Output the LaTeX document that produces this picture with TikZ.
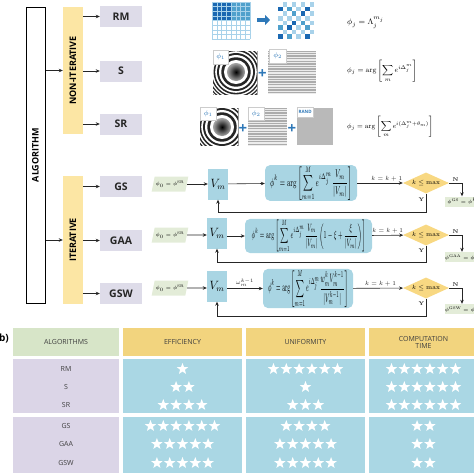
\documentclass[tikz,border=0pt]{standalone}
\usepackage{amsmath}
\usepackage{fontspec}
\setsansfont{Open Sans}
\usetikzlibrary{shapes,arrows.meta}

\definecolor{baryellow}{HTML}{FCE6A4}
\definecolor{alggray}{HTML}{DEDCE9}
\definecolor{boxblue}{HTML}{A9D5E3}
\definecolor{decyellow}{HTML}{F8D882}
\definecolor{ingreen}{HTML}{E3ECD8}
\definecolor{headgreen}{HTML}{D7E5C8}
\definecolor{headyellow}{HTML}{F2D47E}
\definecolor{celllav}{HTML}{DBD5E7}
\definecolor{cellblue}{HTML}{AAD7E4}
\definecolor{rmdark}{HTML}{1A68B2}
\definecolor{rmmid}{HTML}{4FA0CC}
\definecolor{rmlight}{HTML}{A8D2EA}
\definecolor{plusblue}{HTML}{2E78B8}
\definecolor{txtgray}{HTML}{3F3F3F}

% row of white stars: name, x, y, count
\newcommand{\starrow}[4]{%
  \foreach \s in {1,...,#4}{%
    \node[wstar] (#1-\s) at ({#2+(\s-(#4+1)/2)*12.8},#3) {};}}

% zone plate picture: x1, y1, x2, y2, cx, cy
\newcommand{\zoneplate}[6]{%
  \begin{scope}
    \clip (#1,#2) rectangle (#3,#4);
    \fill[white] (#1,#2) rectangle (#3,#4);
    \foreach \n in {24,...,1}{%
      \pgfmathsetmacro{\rr}{8.5*sqrt(\n)}
      \ifodd\n \fill[black!85] (#5,#6) circle (\rr pt); \else \fill[white] (#5,#6) circle (\rr pt); \fi}
    \shade[inner color=black,outer color=gray!70] (#5,#6) circle (9pt);
  \end{scope}}

% striped picture: x1, y1, x2, y2
\newcommand{\stripes}[4]{%
  \begin{scope}
    \clip (#1,#2) rectangle (#3,#4);
    \fill[gray!65] (#1,#2) rectangle (#3,#4);
    \foreach \k in {0,...,18}{%
      \fill[gray!15] (#1,{#2+\k*2.6+0.6}) rectangle (#3,{#2+\k*2.6+1.7});}
  \end{scope}}

\begin{document}
\begin{tikzpicture}[x=1pt,y=-1pt,font=\sffamily,
  arr/.style={-{Stealth[length=4pt,width=3.5pt]},line width=0.6pt,black!85},
  topbox/.style={draw=black,line width=1pt,fill=white,rotate=90,minimum width=296pt,minimum height=19pt,inner sep=0pt,font=\sffamily\bfseries\fontsize{9}{10}\selectfont},
  catbar/.style={fill=baryellow,rotate=90,minimum height=20pt,inner sep=0pt,font=\sffamily\bfseries\fontsize{9}{10}\selectfont},
  algbox/.style={fill=alggray,minimum width=42pt,minimum height=21pt,inner sep=0pt,text=black!85,font=\sffamily\bfseries\fontsize{10.5}{12}\selectfont},
  vbox/.style={fill=boxblue,minimum width=20pt,minimum height=31pt,inner sep=0pt,font=\fontsize{12}{13}\selectfont},
  fbox/.style={fill=boxblue,rounded corners=5pt,inner sep=0pt,font=\fontsize{7}{8}\selectfont},
  decbox/.style={diamond,aspect=2,fill=decyellow,minimum width=46pt,minimum height=21pt,inner sep=0pt,font=\fontsize{6.5}{7}\selectfont},
  inbox/.style={trapezium,trapezium left angle=70,trapezium right angle=110,trapezium stretches=true,fill=ingreen,minimum width=34pt,minimum height=15pt,inner sep=1pt,font=\fontsize{5.5}{6}\selectfont},
  outbox/.style={fill=ingreen,minimum width=34pt,minimum height=10pt,inner sep=0pt,font=\fontsize{5.5}{6}\selectfont},
  yn/.style={font=\rmfamily\bfseries\fontsize{5.5}{6}\selectfont,inner sep=1.5pt},
  lbl/.style={font=\fontsize{6}{7}\selectfont,inner sep=1.5pt},
  eqn/.style={anchor=west,inner sep=0pt,font=\fontsize{8}{9}\selectfont},
  imglabel/.style={anchor=north west,fill=white,draw=gray!40,line width=0.3pt,text=plusblue,inner sep=0pt,font=\fontsize{7}{8}\selectfont},
  plus/.style={text=plusblue,inner sep=0pt,font=\sffamily\bfseries\fontsize{15}{15}\selectfont},
  headg/.style={fill=headgreen,minimum height=28pt,inner sep=0pt,text=txtgray,font=\sffamily\fontsize{7}{8}\selectfont},
  heady/.style={headg,fill=headyellow},
  celll/.style={fill=celllav,minimum width=106pt,inner sep=0pt},
  cellb/.style={fill=cellblue,inner sep=0pt},
  rowlbl/.style={text=txtgray,inner sep=0pt,font=\sffamily\fontsize{7}{8}\selectfont},
  wstar/.style={star,star points=5,star point ratio=2.4,minimum size=12pt,inner sep=0pt,fill=white}]
\useasboundingbox (0,0) rectangle (474,474);

% a) tree of algorithms
\node[topbox] (alg) at (35.5,155) {ALGORITHM};
\node[catbar,minimum width=127pt] (nonit) at (73,70.5) {NON-ITERATIVE};
\node[catbar,minimum width=128pt] (iter) at (73,240) {ITERATIVE};
\draw[arr] (alg.south |- nonit.center) -- (nonit.north);
\draw[arr] (alg.south |- iter.center) -- (iter.north);

\node[algbox] (rm) at (121,16.5) {RM};
\node[algbox] (s) at (121,71) {S};
\node[algbox] (sr) at (121,124) {SR};
\node[algbox] (gs) at (121,186.5) {GS};
\node[algbox] (gaa) at (121,240.5) {GAA};
\node[algbox] (gsw) at (121,293.5) {GSW};
\foreach \a in {rm,s,sr}{\draw[arr] (nonit.south |- \a) -- (\a);}
\foreach \a in {gs,gaa,gsw}{\draw[arr] (iter.south |- \a) -- (\a);}

% RM pictures
\fill[rmdark] (212,2) rectangle (231,20.5);
\fill[rmmid] (231,2) rectangle (250,20.5);
\fill[white] (212,20.5) rectangle (250,39);
\foreach \g in {0,...,8}{%
  \draw[rmlight,line width=0.4pt] ({212+\g*4.75},2) -- ({212+\g*4.75},39);
  \draw[rmlight,line width=0.4pt] (212,{2+\g*4.625}) -- (250,{2+\g*4.625});}
\draw[plusblue,line width=4pt,-{Triangle[length=5pt,width=10pt]}] (257,20) -- (270,20);
\foreach \i in {0,...,7}{%
  \foreach \j in {0,...,7}{%
    \pgfmathtruncatemacro{\c}{ifthenelse(mod(\i+\j,2)==0,0,mod(3*\i+5*\j+\i*\j,3)+1)}
    \ifcase\c \def\cc{white}\or\def\cc{rmlight}\or\def\cc{rmmid}\or\def\cc{rmdark}\fi
    \fill[\cc] ({278+\i*4.5},{2+\j*4.625}) rectangle ({278+\i*4.5+4.5},{2+\j*4.625+4.625});}}
\node[eqn] (eqrm) at (347,23) {$\phi_j=\Lambda_j^{m_j}$};

% S pictures
\zoneplate{213}{51}{257}{94}{236}{72}
\stripes{268}{51}{316}{94}
\node[imglabel,minimum width=15pt,minimum height=14pt] (ls1) at (213,50) {$\phi_1$};
\node[imglabel,minimum width=17pt,minimum height=14pt] (ls2) at (269,49) {$\phi_2$};
\node[plus] (ps1) at (262.5,74) {+};
\node[eqn] (eqs) at (347,71) {\resizebox{70pt}{!}{$\phi_j=\arg\left[\displaystyle\sum_m e^{i\Delta_j^m}\right]$}};

% SR pictures
\zoneplate{200}{108}{238}{145}{222}{127}
\stripes{248}{108}{287}{145}
\fill[gray!55] (297,108) rectangle (333,145);
\node[imglabel,minimum width=16pt,minimum height=13pt] (lsr1) at (200,107) {$\phi_1$};
\node[imglabel,minimum width=16pt,minimum height=13pt] (lsr2) at (248,107) {$\phi_2$};
\node[imglabel,minimum width=16pt,minimum height=10pt,font=\sffamily\bfseries\fontsize{4.5}{5}\selectfont] (lsr3) at (297,107) {RAND};
\node[plus] (psr1) at (243,129) {+};
\node[plus] (psr2) at (292,129) {+};
\node[eqn] (eqsr) at (347,127) {\resizebox{86pt}{!}{$\phi_j=\arg\left[\displaystyle\sum_m e^{i(\Delta_j^m+\theta_m)}\right]$}};

% GS loop
\node[inbox] (in1) at (170,184) {$\phi_0=\phi^{\mathrm{SR}}$};
\node[vbox] (v1) at (218,184) {$V_m$};
\node[fbox,minimum width=92pt,minimum height=32pt] (f1) at (311,183) {\resizebox{82pt}{21pt}{$\displaystyle\phi^k=\arg\left[\sum_{m=1}^{M}e^{i\Delta_j^m}\frac{V_m}{|V_m|}\right]$}};
\node[decbox] (d1) at (426,183) {$k\le\max$};
\node[outbox] (o1) at (462,201.5) {$\phi^{\mathrm{GS}}=\phi^k$};
\coordinate (b1) at (426,212);
\draw[arr] (in1) -- (v1);
\draw[arr] (v1) -- (f1);
\draw[arr] (f1) -- node[lbl,above,pos=0.65] {$k=k+1$} (d1);
\draw[arr] (d1.east) -| node[yn,above,pos=0.25] {N} (o1.north);
\draw[arr] (d1.south) -- node[yn,left,pos=0.3] {Y} (b1) -| (v1.south);

% GAA loop
\node[inbox] (in2) at (170,235) {$\phi_0=\phi^{\mathrm{SR}}$};
\node[vbox] (v2) at (217,233) {$V_m$};
\node[fbox,minimum width=127pt,minimum height=28pt] (f2) at (308.5,236) {\resizebox{114pt}{20pt}{$\displaystyle\phi^k=\arg\left[\sum_{m=1}^{M}e^{i\Delta_j^m}\frac{V_m}{|V_m|}\left(1-\xi+\frac{\xi}{|V_m|}\right)\right]$}};
\node[decbox] (d2) at (426,235) {$k\le\max$};
\node[outbox] (o2) at (462,257) {$\phi^{\mathrm{GAA}}=\phi^k$};
\coordinate (b2) at (426,262);
\draw[arr] (in2) -- (v2.west |- in2);
\draw[arr] (v2.east |- f2) -- (f2);
\draw[arr] (f2) -- node[lbl,above,pos=0.5] {$k=k+1$} (d2);
\draw[arr] (d2.east) -| node[yn,above,pos=0.25] {N} (o2.north);
\draw[arr] (d2.south) -- node[yn,left,pos=0.3] {Y} (b2) -| (v2.south);

% GSW loop
\node[inbox] (in3) at (170,288) {$\phi_0=\phi^{\mathrm{SR}}$};
\node[vbox] (v3) at (217,286) {$V_m$};
\node[fbox,minimum width=90pt,minimum height=33pt] (f3) at (308,288.5) {\resizebox{80pt}{23pt}{$\displaystyle\phi^k=\arg\left[\sum_{m=1}^{M}e^{i\Delta_j^m}\frac{w_m^kV_m^{k-1}}{|V_m^{k-1}|}\right]$}};
\node[decbox] (d3) at (426,288) {$k\le\max$};
\node[outbox] (o3) at (462,309) {$\phi^{\mathrm{GSW}}=\phi^k$};
\coordinate (b3) at (426,316);
\draw[arr] (in3) -- (v3.west |- in3);
\draw[arr] (v3.east |- f3) -- node[lbl,above] {$\omega_m^{k-1}$} (f3);
\draw[arr] (f3) -- node[lbl,above,pos=0.55] {$k=k+1$} (d3);
\draw[arr] (d3.east) -| node[yn,above,pos=0.25] {N} (o3.north);
\draw[arr] (d3.south) -- node[yn,left,pos=0.3] {Y} (b3) -| (v3.south);

% b) comparison table
\node[anchor=east,inner sep=0pt,font=\sffamily\bfseries\fontsize{10}{12}\selectfont] (blab) at (9,338) {b)};
\node[headg,minimum width=106pt] (hAlg) at (66,342) {ALGORITHMS};
\node[heady,minimum width=119pt] (hEff) at (182.5,342) {EFFICIENCY};
\node[heady,minimum width=119pt] (hUni) at (305.5,342) {UNIFORMITY};
\node[heady,minimum width=110pt,align=center] (hTim) at (423.5,342) {COMPUTATION\\[-1pt]TIME};
\foreach \gy/\gh/\gn in {386/54/1,445/56/2}{%
  \node[celll,minimum height=\gh pt] (cA\gn) at (66,\gy) {};
  \node[cellb,minimum width=119pt,minimum height=\gh pt] (cE\gn) at (182.5,\gy) {};
  \node[cellb,minimum width=119pt,minimum height=\gh pt] (cU\gn) at (305.5,\gy) {};
  \node[cellb,minimum width=110pt,minimum height=\gh pt] (cT\gn) at (423.5,\gy) {};}
\foreach \lab/\ly/\ne/\nu/\nt in {RM/369/1/6/6,S/387/2/1/6,SR/405/4/3/6,GS/426/6/4/2,GAA/444/5/5/2,GSW/463/5/5/2}{%
  \node[rowlbl] (l\lab) at (66,\ly) {\lab};
  \starrow{e\lab}{182.5}{\ly}{\ne}
  \starrow{u\lab}{305.5}{\ly}{\nu}
  \starrow{t\lab}{423.5}{\ly}{\nt}}
\end{tikzpicture}
\end{document}
